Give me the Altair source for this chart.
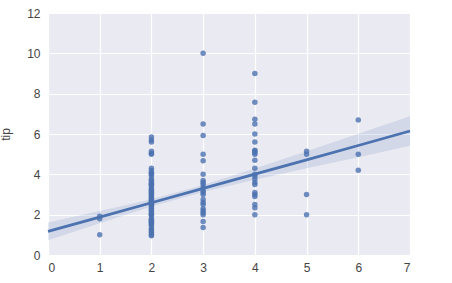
import altair as alt
import pandas as pd

# tip values observed per party size
tips_size1 = [1.0, 1.8, 1.92]
tips_size2 = [0.95, 1.0, 1.1, 1.17, 1.25, 1.3, 1.44, 1.5, 1.57, 1.61, 1.66, 1.71, 1.76, 1.8,
              1.96, 2.0, 2.03, 2.09, 2.18, 2.23, 2.31, 2.34, 2.45, 2.5, 2.52, 2.55, 2.6, 2.64,
              2.72, 2.75, 2.83, 2.88, 2.92, 3.0, 3.06, 3.11, 3.18, 3.23, 3.27, 3.39, 3.48,
              3.5, 3.55, 3.61, 3.71, 3.76, 3.92, 4.0, 4.06, 4.08, 4.19, 4.3, 5.0, 5.05, 5.15,
              5.6, 5.7, 5.85]
tips_size3 = [1.36, 1.66, 2.0, 2.1, 2.2, 2.3, 2.5, 2.6, 2.75, 3.0, 3.1, 3.2, 3.35, 3.5, 3.6,
              3.7, 4.0, 4.67, 5.0, 5.92, 6.5, 10.0]
tips_size4 = [2.0, 2.34, 2.5, 2.9, 3.0, 3.1, 3.5, 3.6, 3.76, 3.9, 4.0, 4.3, 4.7, 5.0, 5.07,
              5.16, 5.2, 5.6, 6.0, 6.5, 6.73, 7.58, 9.0]
tips_size5 = [2.0, 3.0, 5.0, 5.14]
tips_size6 = [4.2, 5.0, 6.7]

# regression fit and confidence band
band_x = [0, 1, 2, 3, 4, 5, 6, 7]
band_fit = [1.17, 1.88, 2.59, 3.30, 4.01, 4.72, 5.43, 6.15]
band_lo = [0.73, 1.58, 2.41, 3.13, 3.73, 4.30, 4.85, 5.42]
band_hi = [1.61, 2.18, 2.77, 3.47, 4.29, 5.14, 6.01, 6.88]

rows = []
for s, vals in [(1, tips_size1), (2, tips_size2), (3, tips_size3),
                (4, tips_size4), (5, tips_size5), (6, tips_size6)]:
    for v in vals:
        rows.append({"size": s, "tip": v})
pts = pd.DataFrame(rows)
band = pd.DataFrame({"size": band_x, "fit": band_fit, "lo": band_lo, "hi": band_hi})

blue = "#4C72B0"
xs = alt.Scale(domain=[0, 7], nice=False, zero=False)
ys = alt.Scale(domain=[0, 12], nice=False)

xax = alt.Axis(values=list(range(8)), format="d", title="size", labelPadding=7, titlePadding=10)
yax = alt.Axis(values=list(range(0, 13, 2)), format="d", title="tip", labelPadding=8, titlePadding=14)

scatter = alt.Chart(pts).mark_circle(size=30, opacity=0.8, color=blue).encode(
    x=alt.X("size:Q", scale=xs, axis=xax),
    y=alt.Y("tip:Q", scale=ys, axis=yax),
)
area = alt.Chart(band).mark_area(color=blue, opacity=0.15).encode(
    x=alt.X("size:Q", scale=xs),
    y=alt.Y("lo:Q", scale=ys),
    y2="hi:Q",
)
line = alt.Chart(band).mark_line(color=blue, strokeWidth=2.8).encode(
    x=alt.X("size:Q", scale=xs),
    y=alt.Y("fit:Q", scale=ys),
)

chart = (scatter + area + line).properties(
    width=362, height=242,
    autosize=alt.AutoSizeParams(type="none"),
    padding={"left": 48, "top": 13, "right": 42, "bottom": 28},
    background="white",
).configure_view(
    fill="#EAEAF2", stroke=None
).configure_axis(
    grid=True, gridColor="white", gridWidth=1.2, domain=False, ticks=False,
    labelFont="Liberation Sans", titleFont="Liberation Sans",
    labelFontSize=12, titleFontSize=12, labelColor="#444444", titleColor="#444444",
    titleFontWeight="normal",
)

chart.save("out.html", embed_options={"renderer": "svg", "actions": False})
